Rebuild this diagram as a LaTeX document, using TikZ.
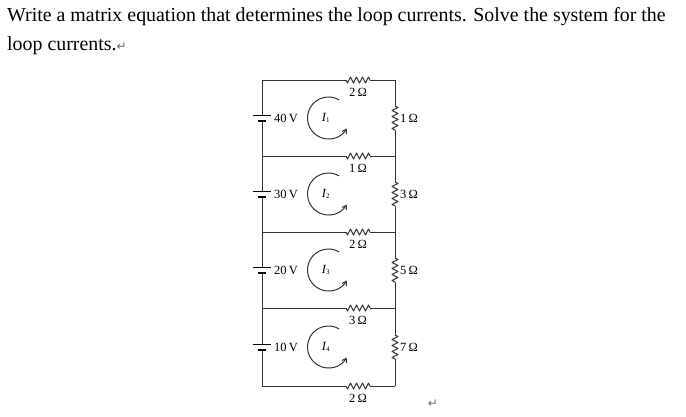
\documentclass[tikz,border=0pt]{standalone}
\usepackage{fontspec}
\setmainfont{Liberation Serif}
\newfontfamily\symf{DejaVu Sans}
\usetikzlibrary{arrows.meta,calc}
\tikzset{
  wire/.style={line width=1pt, black!80},
  lab/.style={font=\fontsize{12.5}{13}\selectfont, inner sep=1pt},
  loop/.style={line width=1pt, black!80, -{Straight Barb[length=4pt,width=5pt]}},
}
\begin{document}
\begin{tikzpicture}[x=1pt,y=-1pt]
\useasboundingbox (0,0) rectangle (686,416);
\fill[white] (0,0) rectangle (686,416);
\node[anchor=west, font=\fontsize{19.9}{22}\selectfont, inner sep=0] (t1) at (7,17) {Write a matrix equation that determines the loop currents. Solve the system for the};
\node[anchor=west, font=\fontsize{19.9}{22}\selectfont, inner sep=0] (t2) at (7,46) {loop currents.{\symf\fontsize{12}{12}\selectfont\color{black!60}↵}};
\node[font=\symf\fontsize{12}{12}\selectfont, text=black!60] (ret) at (433,404) {↵};
\foreach \i/\y in {0/80,1/156,2/232,3/308,4/386}{
  \coordinate (L\i) at (262,\y);
  \coordinate (R\i) at (395,\y);
}
\foreach \i/\v in {0/2,1/1,2/2,3/3,4/2}{
  \path (R\i) ++(-25,0) coordinate (s\i);
  \path (s\i) ++(-24,0) coordinate (u\i);
  \draw[wire] (R\i) -- (s\i);
  \draw[wire] (u\i) -- (L\i);
  \draw[wire,line join=round] (s\i) -- ++(-1.5,-3) -- ++(-3,6) -- ++(-3,-6) -- ++(-3,6) -- ++(-3,-6) -- ++(-3,6) -- ++(-3,-6) -- ++(-3,6) -- ++(-1.5,-3);
  \node[lab] (h\i) at ($(s\i)+(-12,12)$) {\v\,Ω};
}
\foreach \a/\b/\v in {0/1/1,1/2/3,2/3/5,3/4/7}{
  \path ($(R\a)!0.5!(R\b)$) coordinate (m\a);
  \draw[wire] (R\a) -- ($(m\a)+(0,-12)$);
  \draw[wire] (R\b) -- ($(m\a)+(0,12)$);
  \draw[wire,line join=round] ($(m\a)+(0,-12)$) -- ++(3,1.5) -- ++(-6,3) -- ++(6,3) -- ++(-6,3) -- ++(6,3) -- ++(-6,3) -- ++(6,3) -- ++(-6,3) -- ++(3,1.5);
  \node[lab,anchor=west] (v\a) at ($(m\a)+(4,0)$) {\v\,Ω};
}
\foreach \a/\b/\v/\n in {0/1/40/1,1/2/30/2,2/3/20/3,3/4/10/4}{
  \path ($(L\a)!0.5!(L\b)$) coordinate (b\a);
  \draw[wire] (L\a) -- ($(b\a)+(0,-3)$);
  \draw[wire] (L\b) -- ($(b\a)+(0,3)$);
  \draw[line width=1pt] ($(b\a)+(-9,-3)$) -- ($(b\a)+(9,-3)$);
  \draw[line width=1.8pt] ($(b\a)+(-4,3)$) -- ($(b\a)+(4,3)$);
  \node[lab,anchor=west] (e\a) at ($(b\a)+(11,0)$) {\v\,V};
  \draw[loop] ($(b\a)+(77,-18.2)$) arc[start angle=-60,end angle=-330,radius=21];
  \node[lab] (i\a) at ($(b\a)+(64,0)$) {\itshape I\textsubscript{\upshape\scriptsize\n}};
}
\end{tikzpicture}
\end{document}
